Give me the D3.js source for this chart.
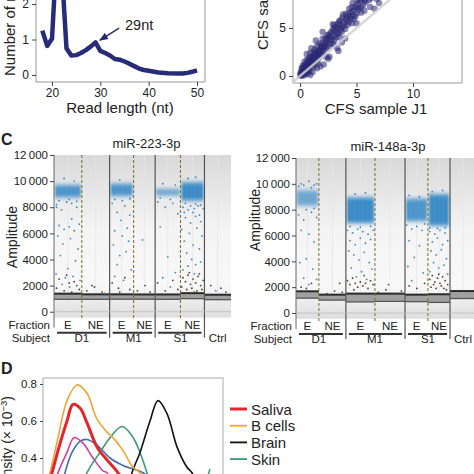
<!DOCTYPE html>
<html>
<head>
<meta charset="utf-8">
<script src="https://cdn.jsdelivr.net/npm/d3@7"></script>
<style>
body { margin: 0; background: #fff; }
text { font-family: "Liberation Sans", Arial, sans-serif; fill: #222; }
</style>
</head>
<body>
<div id="fig"></div>
<script>
// ---------- data ----------
// A: read length distribution
var readLen = [18,19,20,21,22,23,24,25,26,27,28,29,30,31,32,33,34,35,36,37,38,39,40,42,44,46,47,48,49,50];
var readNum = [1.25,0.82,1.02,3.5,3.0,0.75,0.55,0.56,0.62,0.7,0.8,0.92,0.68,0.62,0.55,0.45,0.43,0.38,0.32,0.25,0.18,0.14,0.12,0.07,0.05,0.04,0.04,0.06,0.09,0.13];
var lenTicks = [20,30,40,50];
var numTicks = [0,1,2];

// B: CFS sample J1 vs J2 (log expression)
var cfsPairs = [
 [0.1,0.2],[0.2,0.1],[0.3,0.4],[0.15,0.5],[0.4,0.3],[0.5,0.7],[0.3,0.9],[0.6,0.5],[0.7,1.0],[0.2,0.7],
 [0.5,1.2],[0.8,0.8],[0.9,1.3],[0.4,1.5],[1.0,1.1],[0.6,1.7],[1.1,1.6],[1.2,0.9],[0.8,1.9],[1.3,1.4],
 [0.1,0.0],[0.05,0.3],[0.35,0.05],[0.25,1.1],[0.7,0.3],[1.0,2.0],[1.4,2.1],[1.5,1.6],[0.9,2.4],[1.2,2.5],
 [1.6,2.2],[1.7,1.9],[1.3,2.8],[1.8,2.6],[1.9,2.3],[2.0,3.0],[1.5,3.1],[2.1,2.7],[2.2,3.3],[1.7,3.4],
 [2.4,3.1],[2.3,3.7],[2.6,3.4],[2.5,4.0],[2.8,3.8],[2.0,3.9],[2.9,3.3],[3.0,4.2],[2.7,4.5],[3.2,4.0],
 [3.1,4.7],[3.4,4.4],[3.3,5.0],[3.6,4.8],[3.5,5.4],[3.8,5.1],[3.0,5.3],[3.9,5.6],[4.0,4.9],[4.1,6.0],
 [4.3,5.6],[4.2,6.3],[4.5,6.0],[4.4,6.6],[4.7,6.3],[4.6,5.5],[4.8,6.9],[5.0,6.5],[4.9,7.2],[5.2,6.9],
 [5.1,7.5],[5.4,7.2],[5.3,7.8],[5.6,7.4],[5.5,8.0],[5.8,7.7],[5.9,8.2],[6.1,7.9],[6.0,8.4],[6.3,8.1],
 [6.5,8.5],[6.2,7.2],[6.8,8.0],[7.0,7.6],[7.2,8.3],[5.7,6.8],[2.1,1.2],[3.4,2.6],[2.6,2.0],[1.4,3.7],
 [2.0,4.6],[3.0,3.2],[4.0,3.9],[1.8,1.0],[3.8,6.4],[4.6,7.2],[5.0,5.5],[6.6,7.0],[2.9,5.4],[1.0,2.9],
 [3.7,3.5],[2.3,2.0],[0.6,2.3],[1.1,0.4],[0.9,0.1],[1.5,0.8],[2.5,1.8],[3.3,2.9],[0.45,0.9],[0.75,1.4],
 [1.05,1.8],[1.35,2.3],[1.65,2.7],[1.95,3.4],[2.25,3.9],[2.55,4.3],[2.85,4.7],[3.15,5.1],[3.45,5.7],[3.75,6.1],
 [4.05,6.5],[4.35,7.0],[4.65,7.6],[0.2,0.35],[0.55,0.2],[0.85,0.55],[1.25,1.2],[1.6,1.3],[0.3,0.6],[0.65,0.85],
 [0.0,0.1],[0.1,0.45],[0.25,0.25],[0.45,0.55],[0.35,0.75],[0.55,0.95],[0.15,0.85],[0.7,0.65],[0.65,1.25],[0.85,1.05],
 [0.4,1.1],[1.0,1.45],[0.75,1.6],[1.15,1.95],[0.95,1.7],[1.3,1.75],[1.45,2.45],[1.2,2.2],[1.55,2.0],[1.75,2.3],
 [1.85,2.9],[1.6,2.55],[2.05,2.45],[2.15,3.0],[1.9,3.15],[2.35,3.45],[2.45,2.9],[2.65,3.7],[2.75,4.1],[2.4,4.25],
 [3.05,3.75],[3.25,4.45],[2.95,4.9],[3.5,4.1],[3.55,5.0],[3.7,4.6],[3.35,5.45],[3.9,5.3],[4.2,5.3],[4.15,5.8],
 [4.4,6.2],[3.6,5.8],[4.6,6.7],[4.9,6.2],[4.75,5.9],[5.15,7.1],[5.4,6.6],[5.05,7.8],[5.7,7.9],[5.25,8.1]
];
var j1Ticks = [0,5,10];
var j2Ticks = [0,5];

// C: ddPCR droplet amplitudes
var ampTicks = [0,2000,4000,6000,8000,10000,12000];
var fractions = ["E","NE","E","NE","E","NE"];
var subjects = ["D1","M1","S1"];
// well edges (event index, thousands)
var edges223 = [0,11,22,31.5,40,50,59.5,70];
var edges148 = [0,8.9,19.4,30.7,42.4,51.3,59.9,70];
// positive droplet clusters: lane, low, high amplitude, density
var pos223 = [[0,8750,9700,0.9],[2,8850,9800,0.9],[4,8900,9400,0.75],[5,8500,9900,1]];
var pos148 = [[0,8300,9500,0.7],[2,6950,8950,1],[4,7100,8850,0.9],[5,6750,9200,1]];
// negative droplet band: top, bottom amplitude per lane
var neg223 = [[1380,950],[1330,950],[1330,960],[1320,960],[1320,950],[1420,1000],[1300,920]];
var neg148 = [[1680,1150],[1420,1000],[1500,860],[1500,900],[1420,880],[1450,820],[1700,1120]];
// rain droplets: event index, amplitude, positive(1)/negative(0)
var rain223 = [
 [1,8200,1],[3,7800,1],[5,8400,1],[7,7100,1],[9,8000,1],[2,6600,1],[4,6300,1],[6,6500,1],[8,6200,1],[10,6700,1],
 [1.5,5800,1],[3.5,5200,1],[6.5,5600,1],[9.5,4800,1],[2.5,4300,1],[8.5,3900,1],[5.5,3300,1],[0.8,2900,1],[4.5,2600,1],[7.5,2700,1],
 [10.3,2400,1],[3.2,2100,1],[6.2,1900,1],[2,2500,0],[5,2800,0],[8,2300,0],[9,2000,0],[1,1800,0],[4,1600,0],[7,1500,0],
 [10,1700,0],[6,2200,0],[13,1600,0],[16,1900,0],[19,1500,0],[15,2000,0],[20,1400,1],
 [2,8500,1],[6,8600,1],[9,8450,1],[4,10200,1],[8,10000,1],[1,8000,1],[7,8300,1],
 [23,8300,1],[25,7600,1],[28,8100,1],[30,7400,1],[24,6200,1],[27,5800,1],[29,6400,1],[23.5,5100,1],[26,4300,1],[28.5,4600,1],
 [25,3600,1],[30.5,3200,1],[24,2700,1],[27.5,2400,1],[29.5,5400,1],[26.5,7000,1],[23,2200,0],[25.5,1800,0],[28,2600,0],[30,1700,0],
 [26,1500,0],[33,1600,0],[36,2000,0],[38,1500,0],[35,5500,1],[24,8600,1],[27,8500,1],[30,8650,1],[26,10100,1],
 [41,8400,1],[44,8000,1],[47,8300,1],[49,7500,1],[42,6500,1],[45,4200,1],[48,3000,1],[43,2600,1],[46,1900,1],[41,2200,0],
 [44,1600,0],[47,2400,0],[49,1700,0],[42,8700,1],[46,8600,1],[48,9700,1],[43,9800,1],
 [51,8000,1],[53,7800,1],[55,7600,1],[57,8100,1],[59,7900,1],[52,7200,1],[54,6800,1],[56,7300,1],[58,6900,1],[50.5,6300,1],
 [53.5,6000,1],[56.5,6400,1],[58.5,5800,1],[51.5,5400,1],[55,5100,1],[57.5,4800,1],[52.5,4500,1],[54.5,4000,1],[56,3600,1],[58,3800,1],
 [51,3200,1],[53,3500,1],[55.5,2900,1],[51,2600,0],[52,2300,0],[53,2800,0],[54,2100,0],[55,2500,0],[56,2200,0],[57,2700,0],
 [58,2000,0],[59,2400,0],[50.5,1900,0],[52.5,1700,0],[54.5,1800,0],[56.5,1600,0],[58.5,1700,0],[53.5,3000,0],[55.5,1500,0],[57.5,2900,0],
 [52,8300,1],[54,8100,1],[56,8250,1],[58,8150,1],[51.5,7600,1],[55.5,7900,1],[57.5,7400,1],[53,10200,1],[56,10300,1],
 [62,2000,0],[66,1800,0],[64,1600,1],[68,1500,0]
];
var rain148 = [
 [1,7600,1],[3,7200,1],[6,7800,1],[8,7400,1],[2,6400,1],[5,6100,1],[7,5500,1],[4,4200,1],[1.5,3900,1],[6.5,3400,1],
 [3,2700,1],[8,2600,1],[5,2200,1],[2,10000,1],[5,10200,1],[7,9900,1],[2,2000,0],[6,2300,0],[4,1900,0],
 [1,9800,1],[3,9900,1],[6,9700,1],[8,10000,1],[4,8000,1],[7,8100,1],
 [12,1500,0],[15,1700,0],[17,2300,0],[18,1600,0],
 [20,6400,1],[22,6200,1],[24,6500,1],[26,6300,1],[28,6100,1],[30,6400,1],[21,5600,1],[23,5300,1],[25,5800,1],[27,5400,1],
 [29,5700,1],[20.5,4800,1],[22.5,4500,1],[24.5,4100,1],[26.5,4700,1],[28.5,3900,1],[21.5,3500,1],[25.5,3200,1],[29.5,3400,1],[23.5,2800,1],
 [27.5,2600,1],[20,2500,0],[21,2200,0],[22,2700,0],[23,2300,0],[24,2000,0],[25,2400,0],[26,2100,0],[27,2300,0],[28,1900,0],
 [29,2500,0],[30,2200,0],[22.5,1800,0],[26.5,2900,0],[21,6700,1],[25,6650,1],[29,6700,1],[23,9200,1],[27,9300,1],
 [32,1600,0],[35,1800,0],[38,1500,0],[41,1700,0],[36,2200,0],
 [43,6800,1],[45,6500,1],[47,6700,1],[49,6400,1],[50,6900,1],[44,5600,1],[48,5200,1],[46,4300,1],[43.5,3600,1],[49.5,3100,1],
 [45,2500,1],[44,2100,0],[47,1900,0],[50,2300,0],[44,9100,1],[48,9000,1],
 [52,6300,1],[54,6100,1],[56,6400,1],[58,6200,1],[53,5500,1],[55,5800,1],[57,5300,1],[59,5600,1],[52.5,4800,1],[54.5,4500,1],
 [56.5,4900,1],[58.5,4200,1],[53.5,3900,1],[55.5,3500,1],[57.5,3700,1],[52,3200,1],[59,3000,1],
 [52,2600,0],[53,2900,0],[54,2400,0],[55,2700,0],[56,2300,0],[57,2800,0],[58,2500,0],[59,2200,0],[52.5,2000,0],[54.5,1900,0],
 [56.5,2100,0],[58.5,1800,0],[53.5,2200,0],[55.5,3000,0],[57.5,1900,0],[52,6600,1],[55,6550,1],[58,6600,1],[53,9400,1],[57,9500,1]
];

// D: density curves
var tissues = ["Saliva","B cells","Brain","Skin"];
var tissueColors = {"Saliva":"#e3262b","B cells":"#eea535","Brain":"#111111","Skin":"#3c9a72","Other1":"#d83ca0","Other2":"#3f6db4","Other3":"#2fa88c"};
var densSaliva = [[2,0.2],[9,0.32],[15,0.44],[24,0.6],[30,0.69],[37,0.67],[44,0.59],[54,0.46],[64,0.39],[75,0.32],[82,0.26]];
var densBcells = [[0,0.2],[7,0.32],[15,0.51],[24,0.71],[34,0.795],[44,0.75],[54,0.61],[64,0.54],[70,0.51],[80,0.44],[90,0.35],[97,0.32],[102,0.26]];
var densBrain = [[84,0.2],[89,0.32],[97,0.43],[107,0.6],[115,0.71],[124,0.64],[134,0.46],[144,0.35],[149,0.32],[154,0.26]];
var densSkin = [[38,0.2],[44,0.32],[57,0.43],[67,0.51],[79,0.57],[89,0.52],[97,0.43],[104,0.32],[108,0.25]];
var densOther1 = [[10,0.2],[15,0.32],[24,0.43],[31,0.51],[40,0.48],[50,0.4],[60,0.33],[64,0.32],[68,0.26]];
var densOther2 = [[18,0.22],[22,0.32],[29,0.43],[37,0.49],[44,0.5],[54,0.47],[67,0.4],[80,0.36],[100,0.32],[108,0.28]];
var densOther3 = [[163,0.2],[165,0.3],[167,0.34]];
var densTicks = [0.4,0.6,0.8];

// ---------- svg ----------
var svg = d3.select("#fig").append("svg")
  .attr("width", 474).attr("height", 474);
svg.append("rect").attr("width", 474).attr("height", 474).attr("fill", "#fff");
var defs = svg.append("defs");

function styleAxis(g, fs) {
  g.select(".domain").remove();
  g.selectAll(".tick line").attr("stroke", "#444");
  g.selectAll(".tick text").attr("font-size", fs).attr("fill", "#222")
    .attr("font-family", "Liberation Sans, Arial, sans-serif");
}

// ================= A =================
var xA = d3.scaleLinear().domain([20, 50]).range([52, 197]);
var yA = d3.scaleLinear().domain([0, 2]).range([75, 4]);

defs.append("clipPath").attr("id", "clipA").append("rect")
  .attr("x", 36).attr("y", -20).attr("width", 169).attr("height", 102);

svg.append("path")
  .attr("d", "M36,-5V82H205V-5")
  .attr("fill", "none").attr("stroke", "#999").attr("stroke-width", 1);

svg.append("g").attr("transform", "translate(0,82)")
  .call(d3.axisBottom(xA).tickValues(lenTicks).tickSize(4).tickPadding(2))
  .call(styleAxis, 12);
svg.append("g").attr("transform", "translate(36,0)")
  .call(d3.axisLeft(yA).tickValues(numTicks).tickFormat(d3.format("d")).tickSize(4).tickPadding(3))
  .call(styleAxis, 12);

var lineA = d3.line()
  .x(function(d, i) { return xA(readLen[i]); })
  .y(function(d) { return yA(d); });
svg.append("path")
  .datum(readNum)
  .attr("clip-path", "url(#clipA)")
  .attr("d", lineA)
  .attr("fill", "none")
  .attr("stroke", "#272c78")
  .attr("stroke-width", 4.5)
  .attr("stroke-linejoin", "round");

// 29nt annotation
defs.append("marker").attr("id", "arrA")
  .attr("viewBox", "0 0 10 10").attr("refX", 9).attr("refY", 5)
  .attr("markerWidth", 6).attr("markerHeight", 6).attr("orient", "auto")
  .append("path").attr("d", "M0,1L10,5L0,9Z").attr("fill", "#272c78");
svg.append("line")
  .attr("x1", xA(33.9)).attr("y1", yA(1.32))
  .attr("x2", xA(29.9)).attr("y2", yA(0.98))
  .attr("stroke", "#272c78").attr("stroke-width", 1.5)
  .attr("marker-end", "url(#arrA)");
svg.append("text").attr("x", 125).attr("y", 30)
  .attr("font-size", 14.5).text("29nt");

svg.append("text").attr("x", 120).attr("y", 113)
  .attr("text-anchor", "middle").attr("font-size", 15)
  .text("Read length (nt)");
svg.append("text").attr("transform", "translate(15,76) rotate(-90)")
  .attr("font-size", 15).text("Number of reads (\u00d7 10\u2076)");

// ================= B =================
var xB = d3.scaleLinear().domain([0, 10]).range([300, 413]);
var yB = d3.scaleLinear().domain([0, 5]).range([76, 28]);

defs.append("clipPath").attr("id", "clipB").append("rect")
  .attr("x", 293).attr("y", -20).attr("width", 169).attr("height", 103);

svg.append("path")
  .attr("d", "M293,-5V83H462V-5")
  .attr("fill", "none").attr("stroke", "#999").attr("stroke-width", 1);

svg.append("g").attr("transform", "translate(0,83)")
  .call(d3.axisBottom(xB).tickValues(j1Ticks).tickFormat(d3.format("d")).tickSize(4).tickPadding(2))
  .call(styleAxis, 12);
svg.append("g").attr("transform", "translate(293,0)")
  .call(d3.axisLeft(yB).tickValues(j2Ticks).tickFormat(d3.format("d")).tickSize(4).tickPadding(3))
  .call(styleAxis, 12);

var gB = svg.append("g").attr("clip-path", "url(#clipB)");
gB.selectAll("circle")
  .data(cfsPairs)
  .enter()
  .append("circle")
    .attr("cx", function(d) { return xB(d[0]); })
    .attr("cy", function(d) { return yB(d[1]); })
    .attr("r", 3.2)
    .attr("fill", "#2a2872")
    .attr("opacity", 0.55);
// identity line
gB.append("line")
  .attr("x1", xB(-1)).attr("y1", yB(-1))
  .attr("x2", xB(10)).attr("y2", yB(10))
  .attr("stroke", "#d2d2d2").attr("stroke-width", 2.5).attr("opacity", 0.85);

svg.append("text").attr("x", 376).attr("y", 114)
  .attr("text-anchor", "middle").attr("font-size", 15)
  .text("CFS sample J1");
svg.append("text").attr("transform", "translate(268,50) rotate(-90)")
  .attr("font-size", 15).text("CFS sample J2");

// ================= C =================
var grad = defs.append("linearGradient").attr("id", "laneGrad")
  .attr("x1", 0).attr("y1", 0).attr("x2", 0).attr("y2", 1);
grad.append("stop").attr("offset", "0%").attr("stop-color", "#d9d9d9");
grad.append("stop").attr("offset", "45%").attr("stop-color", "#f4f4f4");
grad.append("stop").attr("offset", "80%").attr("stop-color", "#f8f8f8");
grad.append("stop").attr("offset", "100%").attr("stop-color", "#dedede");
defs.append("filter").attr("id", "fuzz")
  .attr("x", "-20%").attr("y", "-40%").attr("width", "140%").attr("height", "180%")
  .append("feGaussianBlur").attr("stdDeviation", "0.8 2.2");
// speckled texture for droplet clusters
var pat = defs.append("pattern").attr("id", "speck")
  .attr("patternUnits", "userSpaceOnUse").attr("width", 4).attr("height", 4);
pat.append("rect").attr("width", 4).attr("height", 4).attr("fill", "#3b8dca");
pat.append("rect").attr("x", 1).attr("y", 1).attr("width", 1.2).attr("height", 1.2).attr("fill", "#1f6aa8");
pat.append("rect").attr("x", 3).attr("y", 2.6).attr("width", 1).attr("height", 1).attr("fill", "#7db3dc");

function fmtAmp(v) {
  return v >= 10000 ? d3.format("d")(v).replace(/(\d\d)(\d{3})$/, "$1\u2009$2") : String(v);
}

function drawDD(o) {
  var g = svg.append("g");
  var x = d3.scaleLinear().domain([0, 70]).range([o.left, o.right]);
  var y = d3.scaleLinear().domain([0, 12000]).range([o.y0, o.y12]);
  var e = o.edges;
  var bottom = y(-450);

  // lanes background
  g.append("rect")
    .attr("x", x(0)).attr("y", y(12000))
    .attr("width", x(70) - x(0)).attr("height", bottom - y(12000))
    .attr("fill", "url(#laneGrad)");
  // faint well gridlines
  g.selectAll(".wl")
    .data(d3.range(7))
    .enter().append("line")
      .attr("x1", function(i) { return x((e[i] + e[i + 1]) / 2); })
      .attr("x2", function(i) { return x((e[i] + e[i + 1]) / 2); })
      .attr("y1", y(12000)).attr("y2", bottom)
      .attr("stroke", "#e6e6e6").attr("stroke-width", 0.8);

  // negative droplet band
  g.selectAll(".neg")
    .data(o.neg)
    .enter().append("rect")
      .attr("x", function(d, i) { return x(e[i]); })
      .attr("width", function(d, i) { return x(e[i + 1]) - x(e[i]); })
      .attr("y", function(d) { return y(d[0]); })
      .attr("height", function(d) { return y(d[1]) - y(d[0]); })
      .attr("fill", "#a0a0a0");
  g.selectAll(".negTop")
    .data(o.neg)
    .enter().append("line")
      .attr("x1", function(d, i) { return x(e[i]); })
      .attr("x2", function(d, i) { return x(e[i + 1]); })
      .attr("y1", function(d) { return y(d[0]); })
      .attr("y2", function(d) { return y(d[0]); })
      .attr("stroke", "#2a2a2a").attr("stroke-width", 2);
  g.selectAll(".negBot")
    .data(o.neg)
    .enter().append("line")
      .attr("x1", function(d, i) { return x(e[i]); })
      .attr("x2", function(d, i) { return x(e[i + 1]); })
      .attr("y1", function(d) { return y(d[1]); })
      .attr("y2", function(d) { return y(d[1]); })
      .attr("stroke", "#555").attr("stroke-width", 1.3);

  // positive clusters
  g.selectAll(".pos")
    .data(o.pos)
    .enter().append("rect")
      .attr("x", function(d) { return x(e[d[0]]) + 1; })
      .attr("width", function(d) { return x(e[d[0] + 1]) - x(e[d[0]]) - 2; })
      .attr("y", function(d) { return y(d[2]); })
      .attr("height", function(d) { return y(d[1]) - y(d[2]); })
      .attr("fill", "url(#speck)")
      .attr("opacity", function(d) { return d[3]; })
      .attr("filter", "url(#fuzz)");

  // rain
  g.selectAll(".rain")
    .data(o.rain)
    .enter().append("circle")
      .attr("cx", function(d) { return x(d[0]); })
      .attr("cy", function(d) { return y(d[1]); })
      .attr("r", 0.9)
      .attr("fill", function(d) { return d[2] ? "#3a87c4" : "#4a4036"; });

  // separators
  [2, 4, 6].forEach(function(i) {
    g.append("line").attr("x1", x(e[i])).attr("x2", x(e[i]))
      .attr("y1", y(12000)).attr("y2", y(0) + 26)
      .attr("stroke", "#555").attr("stroke-width", 1.2);
  });
  [1, 3, 5].forEach(function(i) {
    g.append("line").attr("x1", x(e[i])).attr("x2", x(e[i]))
      .attr("y1", y(12000)).attr("y2", y(0) + 8)
      .attr("stroke", "#7d6a1e").attr("stroke-width", 1)
      .attr("stroke-dasharray", "3,2");
  });
  g.append("line").attr("x1", x(0)).attr("x2", x(0))
    .attr("y1", y(12000)).attr("y2", y(0) + 16)
    .attr("stroke", "#666").attr("stroke-width", 1);
  g.append("line").attr("x1", x(0)).attr("x2", x(70))
    .attr("y1", y(0)).attr("y2", y(0))
    .attr("stroke", "#bbb").attr("stroke-width", 0.8);

  g.append("g").attr("transform", "translate(" + x(0) + ",0)")
    .call(d3.axisLeft(y).tickValues(ampTicks).tickFormat(fmtAmp).tickSize(4).tickPadding(2))
    .call(styleAxis, 11.5);

  g.append("text").attr("x", (x(0) + x(70)) / 2 + o.titleDx).attr("y", o.y12 - 7)
    .attr("text-anchor", "middle").attr("font-size", 13).text(o.title);
  g.append("text").attr("transform", "translate(" + o.ampX + "," + o.ampY + ") rotate(-90)")
    .attr("text-anchor", "middle").attr("font-size", 14).text("Amplitude");

  // fraction / subject labels
  var fy = y(0) + 17, sy = y(0) + 30;
  g.append("text").attr("x", x(0) - 4).attr("y", fy)
    .attr("text-anchor", "end").attr("font-size", 11.5).text("Fraction");
  g.append("text").attr("x", x(0) - 4).attr("y", sy)
    .attr("text-anchor", "end").attr("font-size", 11.5).text("Subject");
  g.selectAll(".frac")
    .data(fractions)
    .enter().append("text")
      .attr("x", function(d, i) { return x((e[i] + e[i + 1]) / 2); })
      .attr("y", fy)
      .attr("text-anchor", "middle").attr("font-size", 11.5)
      .text(function(d) { return d; });
  g.selectAll(".subLine")
    .data(subjects)
    .enter().append("line")
      .attr("x1", function(d, i) { return x(e[2 * i]) + 3; })
      .attr("x2", function(d, i) { return x(e[2 * i + 2]) - 3; })
      .attr("y1", fy + 4).attr("y2", fy + 4)
      .attr("stroke", "#333").attr("stroke-width", 2);
  g.selectAll(".subj")
    .data(subjects)
    .enter().append("text")
      .attr("x", function(d, i) { return x(e[2 * i + 1]); })
      .attr("y", sy)
      .attr("text-anchor", "middle").attr("font-size", 11.5)
      .text(function(d) { return d; });
  g.append("text").attr("x", x((e[6] + e[7]) / 2)).attr("y", sy)
    .attr("text-anchor", "middle").attr("font-size", 11.5).text("Ctrl");
}

drawDD({left: 54, right: 231, y0: 311.7, y12: 155, edges: edges223,
  pos: pos223, neg: neg223, rain: rain223, title: "miR-223-3p", titleDx: 4,
  ampX: 17, ampY: 237});
drawDD({left: 296, right: 476, y0: 313, y12: 158, edges: edges148,
  pos: pos148, neg: neg148, rain: rain148, title: "miR-148a-3p", titleDx: 2,
  ampX: 260, ampY: 220});

svg.append("text").attr("x", 1).attr("y", 145)
  .attr("font-size", 16).attr("font-weight", "bold").text("C");

// ================= D =================
var xD = d3.scaleLinear().domain([0, 180]).range([43, 223]);
var yD = d3.scaleLinear().domain([0.4, 0.8]).range([458, 384]);

defs.append("clipPath").attr("id", "clipD").append("rect")
  .attr("x", 43).attr("y", 378).attr("width", 180).attr("height", 110);

svg.append("rect").attr("x", 43).attr("y", 378).attr("width", 180).attr("height", 110)
  .attr("fill", "none").attr("stroke", "#aaa").attr("stroke-width", 1);
svg.append("g").attr("transform", "translate(43,0)")
  .call(d3.axisLeft(yD).tickValues(densTicks).tickFormat(d3.format(".1f")).tickSize(3).tickPadding(3))
  .call(styleAxis, 11.5);

var lineD = d3.line()
  .x(function(d) { return xD(d[0]); })
  .y(function(d) { return yD(d[1]); })
  .curve(d3.curveCatmullRom);
var curves = [
  ["Other2", densOther2, 1.6], ["Other1", densOther1, 1.6], ["Skin", densSkin, 1.6],
  ["Brain", densBrain, 1.6], ["B cells", densBcells, 1.6], ["Saliva", densSaliva, 3],
  ["Other3", densOther3, 1.6]
];
svg.append("g").attr("clip-path", "url(#clipD)")
  .selectAll("path")
  .data(curves)
  .enter().append("path")
    .attr("d", function(d) { return lineD(d[1]); })
    .attr("fill", "none")
    .attr("stroke", function(d) { return tissueColors[d[0]]; })
    .attr("stroke-width", function(d) { return d[2]; });

var leg = svg.append("g").selectAll("g")
  .data(tissues)
  .enter().append("g")
    .attr("transform", function(d, i) { return "translate(230," + (409 + i * 16.7) + ")"; });
leg.append("line").attr("x1", 0).attr("x2", 17)
  .attr("stroke", function(d) { return tissueColors[d]; })
  .attr("stroke-width", function(d) { return d === "Saliva" ? 3 : 1.8; });
leg.append("text").attr("x", 21).attr("y", 5.5).attr("font-size", 15)
  .text(function(d) { return d; });

svg.append("text").attr("x", 1).attr("y", 374)
  .attr("font-size", 16).attr("font-weight", "bold").text("D");
var yl = svg.append("text").attr("transform", "translate(12,396) rotate(-90)")
  .attr("text-anchor", "end").attr("font-size", 14);
yl.append("tspan").text("Density (\u00d7 10");
yl.append("tspan").attr("dy", -5).attr("font-size", 9.5).text("\u22123");
yl.append("tspan").attr("dy", 5).text(")");
</script>
</body>
</html>
